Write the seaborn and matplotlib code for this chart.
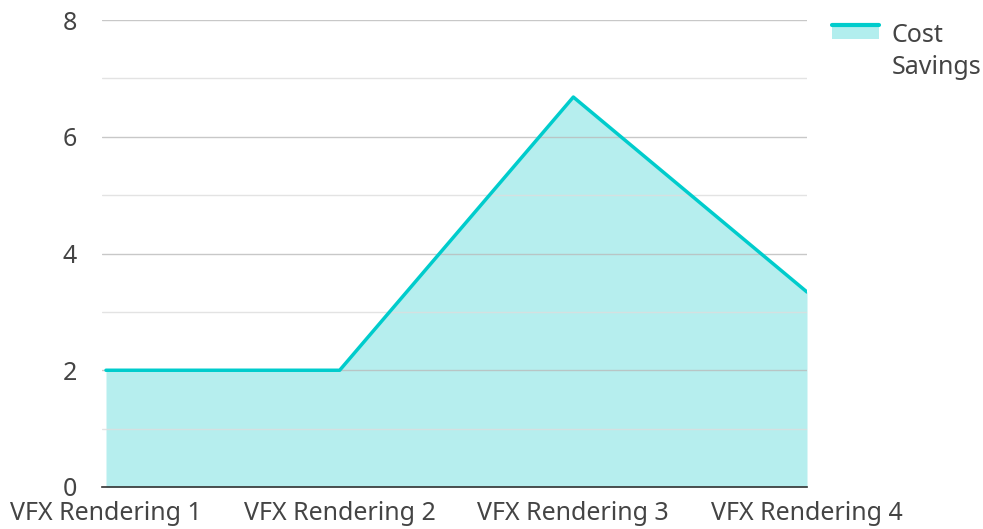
import matplotlib

matplotlib.use("Agg")

import matplotlib.pyplot as plt
import pandas as pd
import seaborn as sns
from matplotlib.legend_handler import HandlerBase
from matplotlib.lines import Line2D
from matplotlib.patches import Rectangle
from matplotlib.ticker import MultipleLocator

# -----------------------------
# Data
# -----------------------------

categories = ["VFX Rendering 1", "VFX Rendering 2", "VFX Rendering 3", "VFX Rendering 4"]
cost_savings = [2.0, 2.0, 6.68, 3.34]
series_label = "Cost\nSavings"

LINE_COLOR = "#00CCCC"
FILL_COLOR = "#B2EEEE"
TEXT_COLOR = "#444444"
FONT_SIZE = 18


class AreaHandler(HandlerBase):
    """Legend swatch: line on top, light fill below it."""

    def create_artists(self, legend, orig_handle, xdescent, ydescent,
                       width, height, fontsize, trans):
        shift = 0.72 * fontsize
        top = height + shift
        fill = Rectangle((-xdescent, top - 0.55 * fontsize), width, 0.55 * fontsize,
                         facecolor=FILL_COLOR, edgecolor="none", transform=trans)
        line = Line2D([-xdescent, width - xdescent], [top, top],
                      color=LINE_COLOR, linewidth=3, transform=trans)
        return [fill, line]


sns.set_style("white")
plt.rcParams["font.family"] = ["Noto Sans", "DejaVu Sans"]

df = pd.DataFrame({"x": range(len(categories)), "savings": cost_savings})

fig = plt.figure(figsize=(9.83, 5.29), dpi=100)
ax = fig.add_axes([102 / 983, 1 - 487 / 529, 705 / 983, 467 / 529])

ax.fill_between(df["x"], 0, df["savings"], color=FILL_COLOR, alpha=0.95, zorder=1, linewidth=0)
sns.lineplot(data=df, x="x", y="savings", color=LINE_COLOR, linewidth=2.5, ax=ax, zorder=3)

ax.set_xlim(-0.0171, 3)
ax.set_ylim(0, 8)
ax.yaxis.set_major_locator(MultipleLocator(2))
ax.yaxis.set_minor_locator(MultipleLocator(1))
ax.set_xticks(df["x"])
ax.set_xticklabels(categories)

ax.grid(axis="y", which="major", color="#BBBBBB", linewidth=1, alpha=0.8, zorder=2)
ax.grid(axis="y", which="minor", color="#DDDDDD", linewidth=1, alpha=0.8, zorder=2)
ax.set_axisbelow(False)

for side in ["top", "right", "left"]:
    ax.spines[side].set_visible(False)
ax.spines["bottom"].set_color("#333333")
ax.spines["bottom"].set_linewidth(1.2)
ax.spines["bottom"].set_zorder(4)

ax.tick_params(axis="both", which="both", length=0, labelsize=FONT_SIZE, colors=TEXT_COLOR)
ax.tick_params(axis="y", pad=18)
ax.tick_params(axis="x", pad=10)
ax.set_xlabel("")
ax.set_ylabel("")

leg = ax.legend(
    [object()],
    [series_label],
    handler_map={object: AreaHandler()},
    loc="upper left",
    bbox_to_anchor=(0.823, 1.0),
    bbox_transform=fig.transFigure,
    frameon=False,
    fontsize=FONT_SIZE,
    labelcolor=TEXT_COLOR,
    handlelength=1.9,
    handletextpad=0.5,
)
for text in leg.get_texts():
    text.set_linespacing(1.4)

fig.savefig("out.png", dpi=100)
plt.close(fig)
